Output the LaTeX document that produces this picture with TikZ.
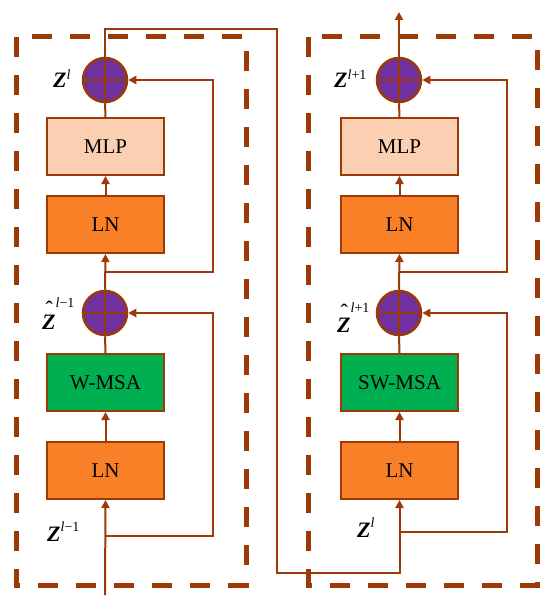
\documentclass[tikz,border=0pt]{standalone}
\usepackage{fontspec}
\setmainfont{Liberation Serif}
\usetikzlibrary{arrows.meta}
\definecolor{brn}{RGB}{155,58,6}
\definecolor{purp}{RGB}{112,48,160}
\definecolor{grn}{RGB}{0,176,80}
\definecolor{orng}{RGB}{250,128,40}
\definecolor{peach}{RGB}{251,207,178}
\newcommand\zsym[2]{\textbf{\textit{Z}}\raisebox{#1}{\fontsize{14}{14}\selectfont #2}}
\newcommand\zhatsym[2]{\makebox[0pt][l]{\hspace{3.5pt}\raisebox{13pt}{\fontsize{22}{22}\selectfont ˆ}}\zsym{#1}{#2}}
\begin{document}
\begin{tikzpicture}[x=1pt,y=-1pt,
  blk/.style={draw=brn, line width=2pt, minimum width=117pt, minimum height=57pt, inner sep=0pt, font=\fontsize{21}{21}\selectfont},
  addop/.style={circle, draw=brn, line width=2.5pt, fill=purp, minimum size=44pt, inner sep=0pt,
    path picture={\draw[brn, line width=2.5pt] (path picture bounding box.north) -- (path picture bounding box.south) (path picture bounding box.west) -- (path picture bounding box.east);}},
  con/.style={draw=brn, line width=2pt},
  arr/.style={con, -{Triangle[length=8pt,width=8pt]}},
  frm/.style={draw=brn, line width=5pt, dash pattern=on 20pt off 18pt},
  zlab/.style={anchor=base west, inner sep=0pt, font=\fontsize{22}{22}\selectfont}]
\useasboundingbox (0,0) rectangle (550,607);

% dashed frames
\draw[frm] (16,37) rectangle (246,585);
\draw[frm] (308,37) rectangle (537,585);

% left column
\node[addop] (c1) at (105,80) {};
\node[blk, fill=peach] (mlp1) at (105.5,146.5) {MLP};
\node[blk, fill=orng] (lna1) at (105.5,224.5) {LN};
\node[addop] (c2) at (105,313) {};
\node[blk, fill=grn] (msa1) at (105.5,382.5) {W-MSA};
\node[blk, fill=orng] (lnb1) at (105.5,470.5) {LN};

% right column
\node[addop] (c3) at (399,80) {};
\node[blk, fill=peach] (mlp2) at (399.5,146.5) {MLP};
\node[blk, fill=orng] (lna2) at (399.5,224.5) {LN};
\node[addop] (c4) at (399,313) {};
\node[blk, fill=grn] (msa2) at (399.5,382.5) {SW-MSA};
\node[blk, fill=orng] (lnb2) at (399.5,470.5) {LN};

% coordinates
\coordinate (in) at (105,595);
\coordinate (br1) at (105,536);
\coordinate (br2) at (105,272);
\coordinate (top1) at (105,29);
\coordinate (br3) at (399,532);
\coordinate (br4) at (399,272);
\coordinate (out) at (399,12);

% left connectors
\draw[arr] (in) -- (lnb1.south);
\draw[arr] (lnb1.north) -- (msa1.south);
\draw[con] (msa1.north) -- (c2.south);
\draw[arr] (c2.north) -- (lna1.south);
\draw[arr] (lna1.north) -- (mlp1.south);
\draw[con] (mlp1.north) -- (c1.south);
\draw[arr] (br1) -| (213,313) -- (c2.east);
\draw[arr] (br2) -| (213,80) -- (c1.east);

% crossing connector
\draw[arr] (c1.north) -- (top1) -| (277,573) -| (lnb2.south);

% right connectors
\draw[arr] (lnb2.north) -- (msa2.south);
\draw[con] (msa2.north) -- (c4.south);
\draw[arr] (c4.north) -- (lna2.south);
\draw[arr] (lna2.north) -- (mlp2.south);
\draw[con] (mlp2.north) -- (c3.south);
\draw[arr] (br3) -| (507,313) -- (c4.east);
\draw[arr] (br4) -| (507,80) -- (c3.east);
\draw[arr] (c3.north) -- (out);

% labels
\node[zlab] (z1) at (53,88) {\zsym{8pt}{\textit{l}}};
\node[zlab] (z2) at (334,88) {\zsym{8pt}{\textit{l}+1}};
\node[zlab] (z3) at (42,329) {\zhatsym{22pt}{\textit{l}−1}};
\node[zlab] (z4) at (337,332) {\zhatsym{20pt}{\textit{l}+1}};
\node[zlab] (z5) at (47,541) {\zsym{10pt}{\textit{l}−1}};
\node[zlab] (z6) at (357,537) {\zsym{10pt}{\textit{l}}};
\end{tikzpicture}
\end{document}
